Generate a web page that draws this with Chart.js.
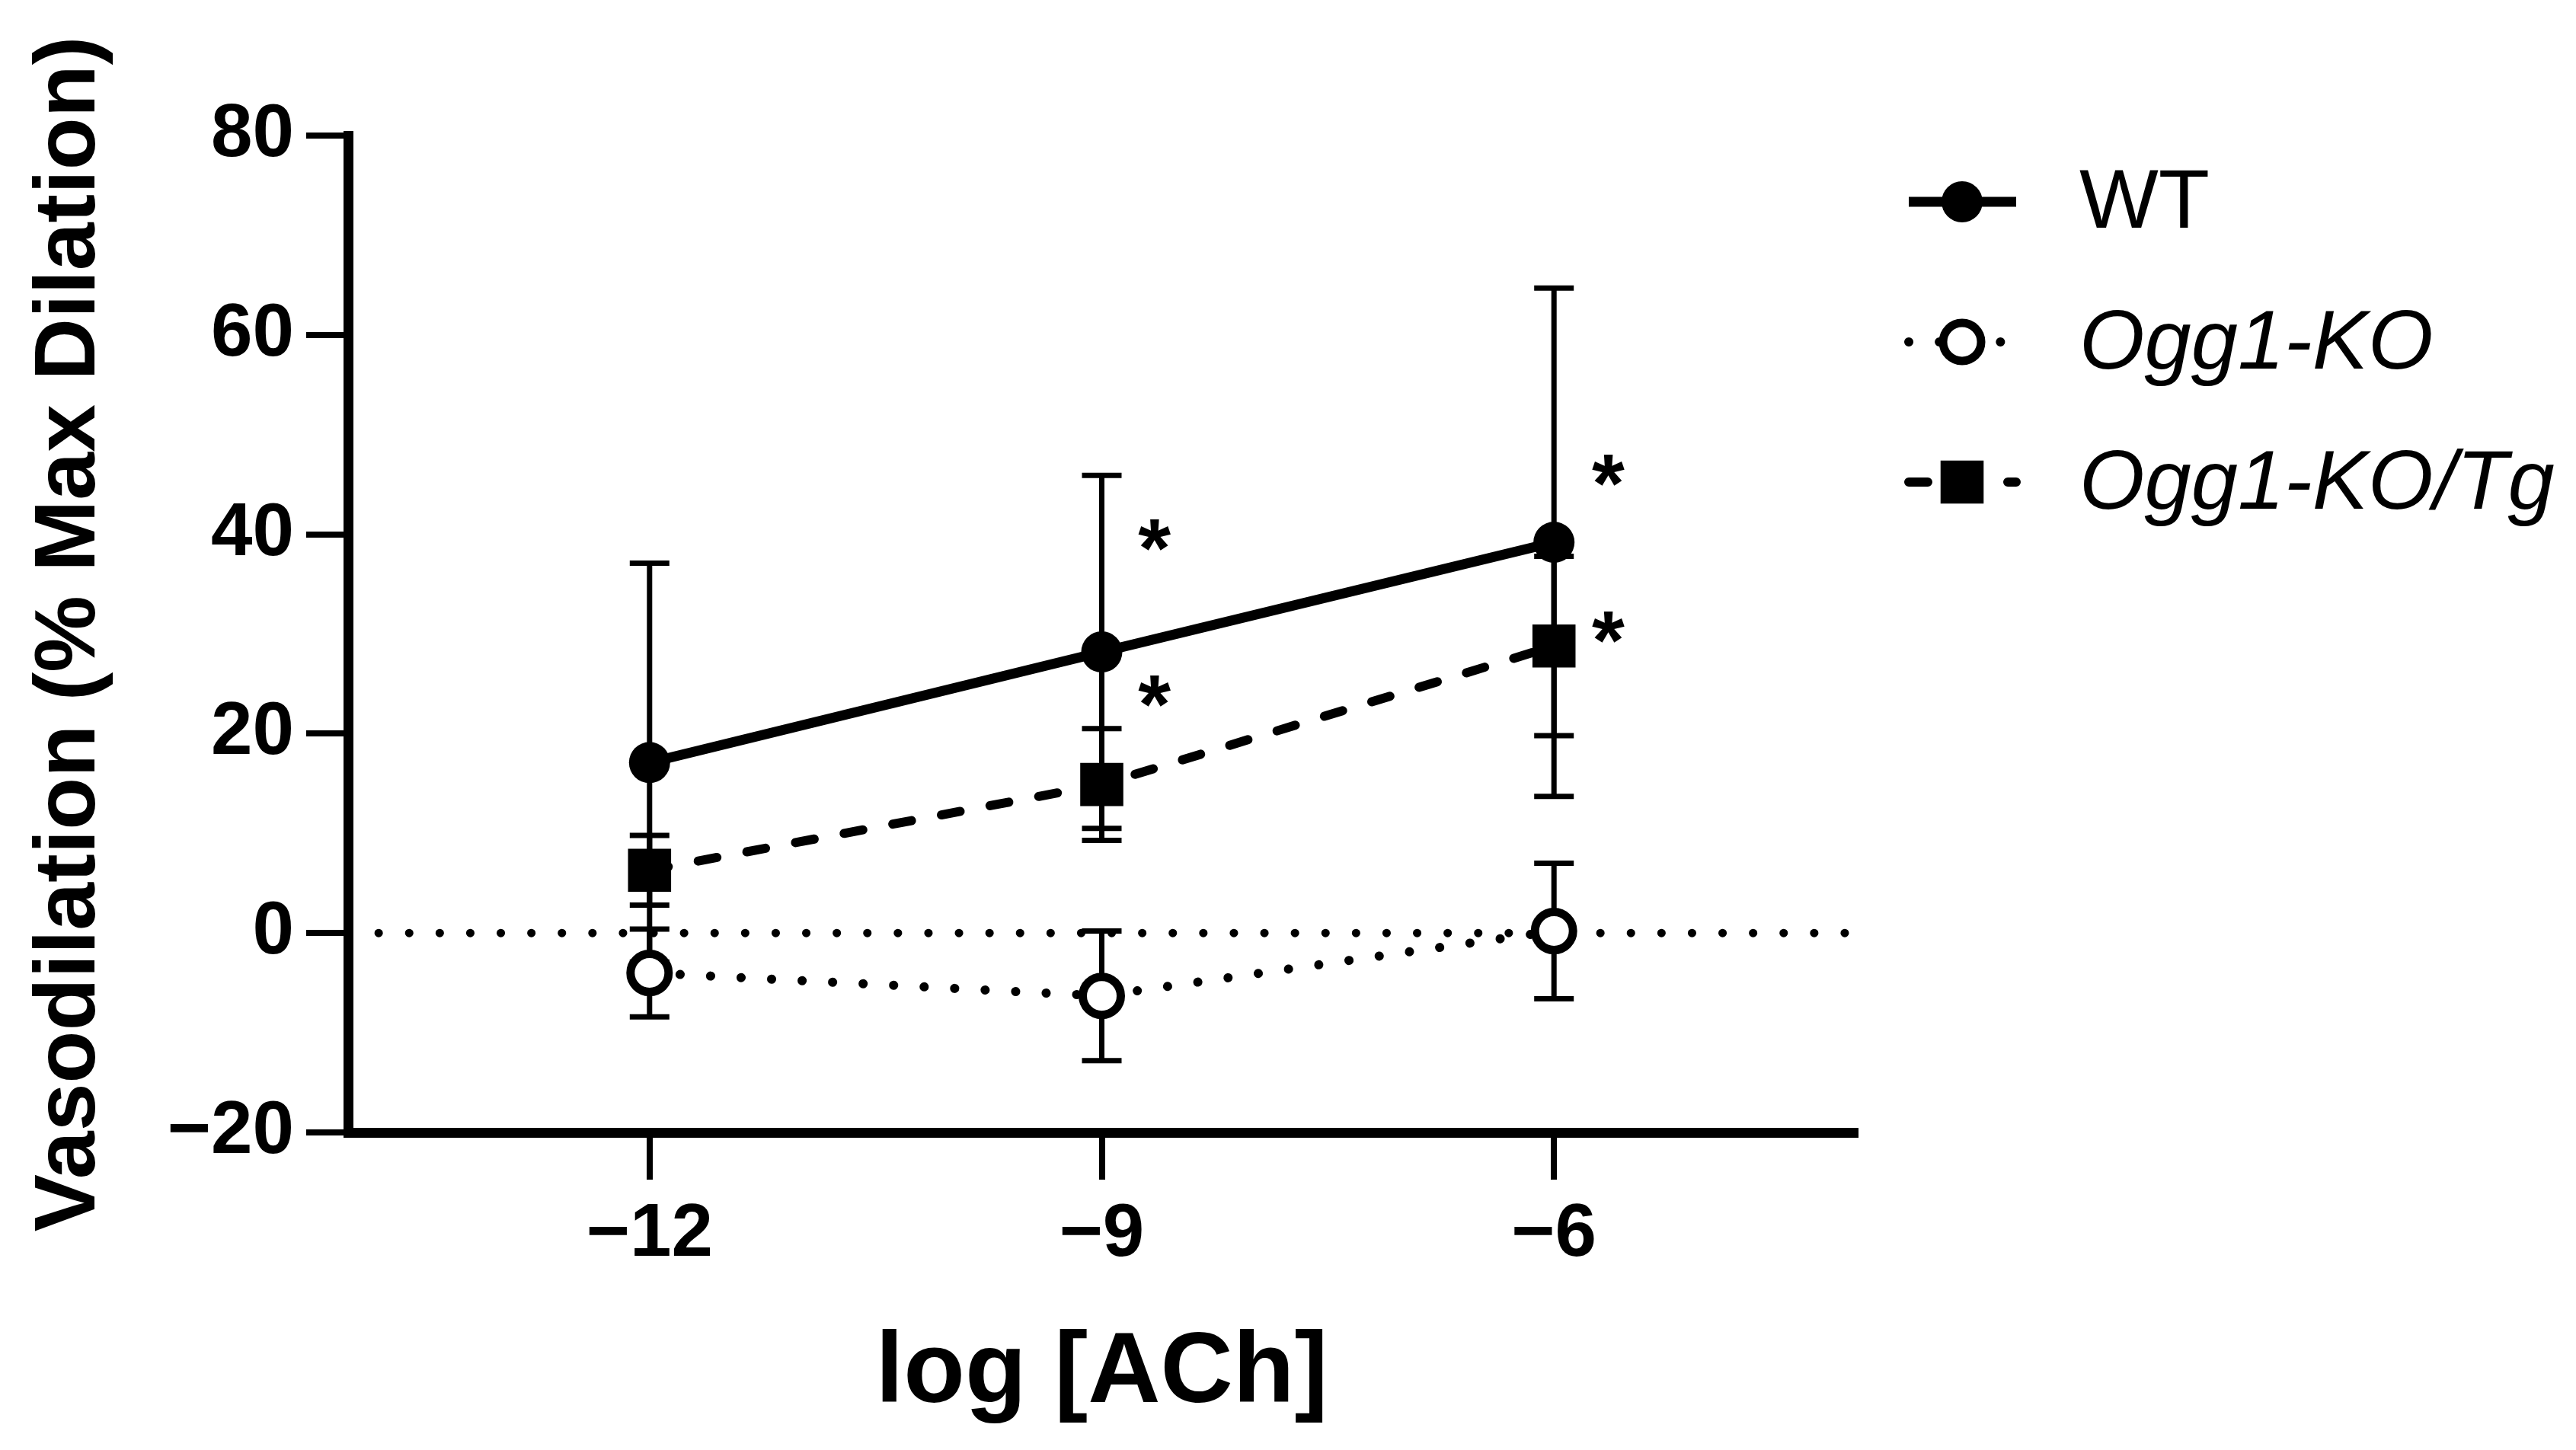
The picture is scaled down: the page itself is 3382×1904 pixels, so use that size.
<!DOCTYPE html>
<html>
<head>
 <meta charset="utf-8" />
 <title>Vasodilation vs log [ACh]</title>
 <script src="https://cdn.jsdelivr.net/npm/chart.js@4.4.1/dist/chart.umd.min.js"></script>
 <style>
  body { margin: 0; background: #fff; }
  canvas { display: block; }
 </style>
</head>
<body>
 <canvas id="myChart" width="3382" height="1904"></canvas>
 <script>
  // values
  var doses = [-12, -9, -6];
  var xTicks = [-12, -9, -6];
  var yTicks = [-20, 0, 20, 40, 60, 80];
  var xRange = [-14, -4];
  var yRange = [-20, 80];
  var seriesNames = ["WT", "Ogg1-KO", "Ogg1-KO/Tg"];
  var wtMean = [17.1, 28.2, 39.2];
  var wtErr = [20.0, 17.7, 25.5];
  var koMean = [-4.0, -6.3, 0.2];
  var koErr = [4.4, 6.5, 6.8];
  var tgMean = [6.3, 14.9, 28.8];
  var tgErr = [3.5, 5.6, 9.0];
  // significance marks (data units)
  var starX = [-8.65, -8.65, -5.64, -5.64];
  var starY = [40.6, 24.9, 47.1, 31.3];

  function pts(ys) {
   return doses.map(function (d, i) { return { x: d, y: ys[i] }; });
  }
  function fmt(v) {
   return v < 0 ? "\u2212" + Math.abs(v) : String(v);
  }

  var FONT = "'Liberation Sans', Arial, sans-serif";
  Chart.defaults.font.family = FONT;
  Chart.defaults.color = "#000";

  // error bars behind the lines
  var errorBars = {
   id: "errorBars",
   beforeDatasetsDraw: function (chart) {
    var ctx = chart.ctx, xs = chart.scales.x, ys = chart.scales.y;
    ctx.save();
    ctx.strokeStyle = "#000";
    ctx.lineWidth = 7;
    chart.data.datasets.forEach(function (ds) {
     if (!ds.errors) return;
     ds.data.forEach(function (p, i) {
      var e = ds.errors[i];
      var px = xs.getPixelForValue(p.x);
      var top = ys.getPixelForValue(p.y + e);
      var bot = ys.getPixelForValue(p.y - e);
      ctx.beginPath();
      ctx.moveTo(px, top); ctx.lineTo(px, bot);
      ctx.moveTo(px - 26, top); ctx.lineTo(px + 26, top);
      ctx.moveTo(px - 26, bot); ctx.lineTo(px + 26, bot);
      ctx.stroke();
     });
    });
    ctx.restore();
   }
  };

  function marker(ctx, ds, x, y) {
   ctx.save();
   ctx.fillStyle = ds.pointBackgroundColor;
   ctx.strokeStyle = ds.pointBorderColor || "#000";
   ctx.lineWidth = ds.pointBorderWidth || 0;
   ctx.beginPath();
   if (ds.pointStyle === "rect") {
    var s = Math.SQRT1_2 * ds.pointRadius;
    ctx.rect(x - s, y - s, 2 * s, 2 * s);
   } else {
    ctx.arc(x, y, ds.pointRadius, 0, Math.PI * 2);
   }
   ctx.fill();
   if (ds.pointBorderWidth) ctx.stroke();
   ctx.restore();
  }

  // legend on the right, line + marker + label
  var sideLegend = {
   id: "sideLegend",
   afterDraw: function (chart) {
    var ctx = chart.ctx;
    var x0 = 2506, x1 = 2647, xm = 2576, xt = 2730;
    var top = 265, step = 184;
    seriesNames.forEach(function (name, i) {
     var ds = chart.data.datasets[i];
     var y = top + i * step;
     ctx.save();
     ctx.strokeStyle = "#000";
     ctx.lineWidth = ds.borderWidth;
     ctx.lineCap = ds.borderCapStyle || "butt";
     ctx.setLineDash(ds.borderDash || []);
     ctx.beginPath();
     ctx.moveTo(x0, y); ctx.lineTo(x1, y);
     ctx.stroke();
     ctx.restore();
     marker(ctx, ds, xm, y);
     ctx.save();
     ctx.fillStyle = "#000";
     ctx.font = (i === 0 ? "" : "italic ") + "110px " + FONT;
     ctx.textAlign = "left";
     ctx.textBaseline = "middle";
     ctx.fillText(name, xt, y + 4);
     ctx.restore();
    });

    // asterisks
    var xs = chart.scales.x, ys = chart.scales.y;
    ctx.save();
    ctx.fillStyle = "#000";
    ctx.font = "bold 110px " + FONT;
    ctx.textAlign = "center";
    ctx.textBaseline = "alphabetic";
    starX.forEach(function (sx, i) {
     ctx.fillText("*", xs.getPixelForValue(sx), ys.getPixelForValue(starY[i]) + 63);
    });
    ctx.restore();
   }
  };

  var ctx = document.getElementById("myChart").getContext("2d");
  var chart = new Chart(ctx, {
   type: "line",
   data: {
    datasets: [
     {
      label: seriesNames[0],
      data: pts(wtMean),
      errors: wtErr,
      borderColor: "#000",
      borderWidth: 13,
      pointStyle: "circle",
      pointRadius: 27,
      pointBackgroundColor: "#000",
      pointBorderColor: "#000",
      pointBorderWidth: 0
     },
     {
      label: seriesNames[1],
      data: pts(koMean),
      errors: koErr,
      borderColor: "#000",
      borderWidth: 12,
      borderDash: [0.1, 40],
      borderCapStyle: "round",
      pointStyle: "circle",
      pointRadius: 25,
      pointBackgroundColor: "#fff",
      pointBorderColor: "#000",
      pointBorderWidth: 11
     },
     {
      label: seriesNames[2],
      data: pts(tgMean),
      errors: tgErr,
      borderColor: "#000",
      borderWidth: 12,
      borderDash: [25, 40],
      borderCapStyle: "round",
      pointStyle: "rect",
      pointRadius: 40,
      pointBackgroundColor: "#000",
      pointBorderColor: "#000",
      pointBorderWidth: 0
     },
     {
      // dotted zero reference line
      label: "zero",
      data: [{ x: xRange[0], y: 0 }, { x: xRange[1], y: 0 }],
      borderColor: "#000",
      borderWidth: 11,
      borderDash: [0.1, 40],
      borderCapStyle: "round",
      pointRadius: 0
     }
    ]
   },
   options: {
    responsive: false,
    devicePixelRatio: 1,
    animation: false,
    layout: { padding: { left: 0, top: 178, right: 946, bottom: 0 } },
    elements: { line: { tension: 0 } },
    plugins: {
     legend: { display: false },
     tooltip: { enabled: false }
    },
    scales: {
     x: {
      type: "linear",
      min: xRange[0],
      max: xRange[1],
      afterBuildTicks: function (scale) {
       scale.ticks = xTicks.map(function (v) { return { value: v }; });
      },
      afterFit: function (scale) {
       scale.height = 417;
       scale.paddingLeft = 0; scale.paddingRight = 0;
      },
      grid: { drawOnChartArea: false, drawTicks: true, tickLength: 62, lineWidth: 8, color: "#000" },
      border: { display: true, width: 13, color: "#000" },
      ticks: {
       padding: 14,
       maxRotation: 0,
       font: { size: 98, weight: "bold" },
       callback: function (v) { return fmt(v); }
      },
      title: {
       display: true,
       text: "log [ACh]",
       font: { size: 132, weight: "bold" },
       padding: { top: 0, bottom: 20 }
      }
     },
     y: {
      type: "linear",
      min: yRange[0],
      max: yRange[1],
      afterBuildTicks: function (scale) {
       scale.ticks = yTicks.map(function (v) { return { value: v }; });
      },
      afterFit: function (scale) {
       scale.width = 457;
       scale.paddingTop = 0; scale.paddingBottom = 0;
      },
      grid: { drawOnChartArea: false, drawTicks: true, tickLength: 55, lineWidth: 8, color: "#000" },
      border: { display: true, width: 13, color: "#000" },
      ticks: {
       padding: 16,
       font: { size: 98, weight: "bold" },
       callback: function (v) { return fmt(v); }
      },
      title: {
       display: true,
       text: "Vasodilation (% Max Dilation)",
       font: { size: 113, weight: "bold" },
       padding: { top: 25, bottom: 0 }
      }
     }
    }
   },
   plugins: [errorBars, sideLegend]
  });
 </script>
</body>
</html>
